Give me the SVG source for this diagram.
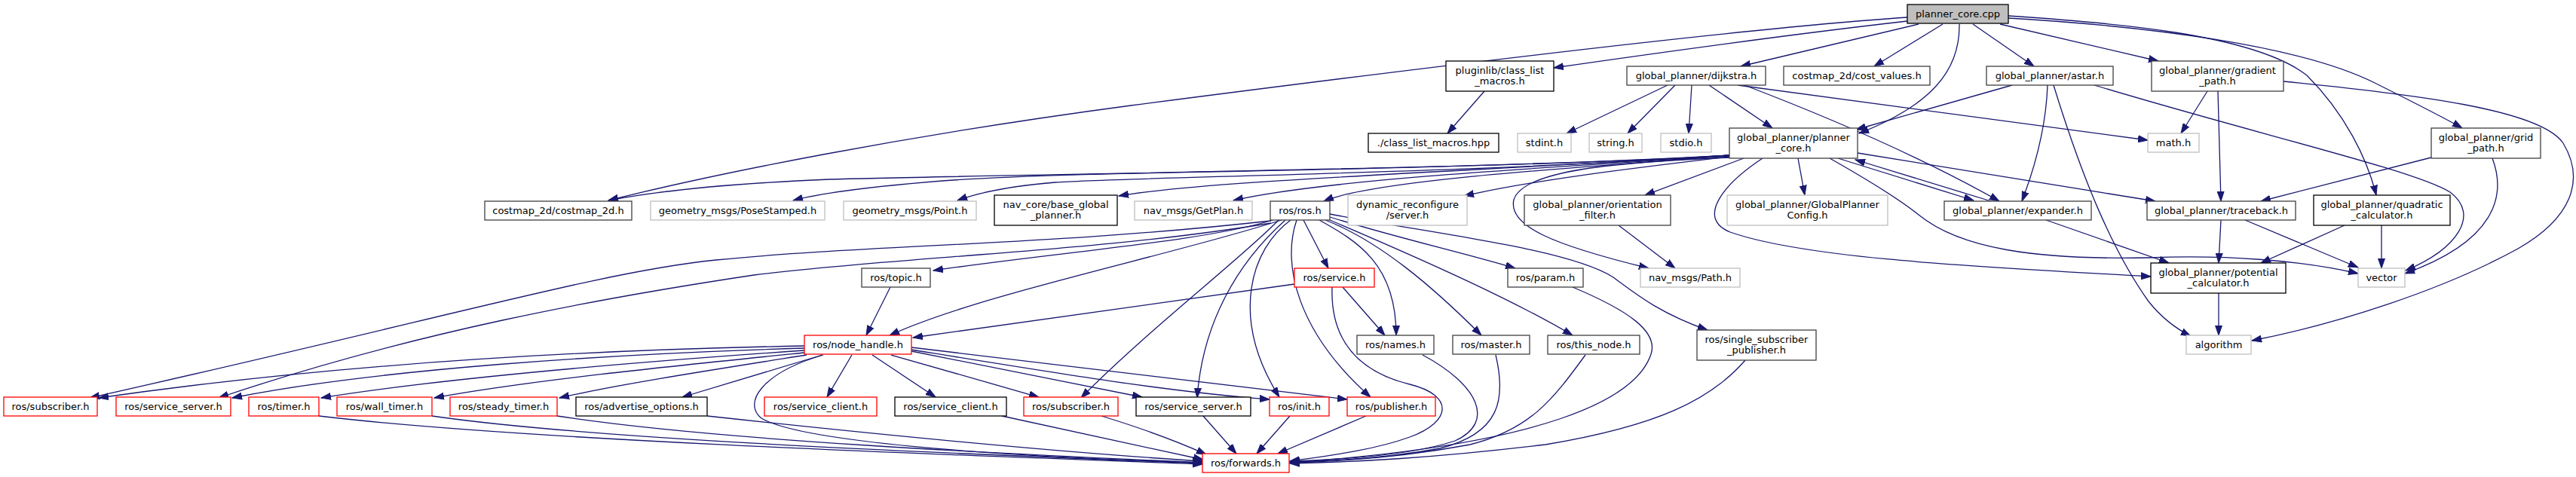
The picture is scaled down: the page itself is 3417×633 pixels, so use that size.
<svg xmlns="http://www.w3.org/2000/svg" width="3417" height="633" viewBox="0 0 3417 633">
<defs>
<marker id="a" markerWidth="14" markerHeight="10" refX="13" refY="5" orient="auto" markerUnits="userSpaceOnUse">
<path d="M0,0.5 L13,5 L0,9.5 z" fill="#191970" stroke="#191970" stroke-width="1"/>
</marker>
</defs>
<style>
rect{fill:#fff;stroke-width:1.3}
.k rect{stroke:#000}
.d rect{stroke:#404040}
.g rect{stroke:#bfbfbf}
.r rect{stroke:#ff0000}
.root rect{fill:#bfbfbf;stroke:#000}
text{font-family:"DejaVu Sans","Liberation Sans",sans-serif;font-size:13px;text-anchor:middle;fill:#000}
#edges path{fill:none;stroke:#191970;stroke-width:1.3;marker-end:url(#a)}
</style>
<rect x="0" y="0" width="3417" height="633" style="fill:#fff;stroke:none"/>
<g id="edges">
<path d="M2530,23 C2350,35 2000,75 1500,140 C1200,180 950,230 807,266"/>
<path d="M2530,28 C2380,45 2200,70 2061,90"/>
<path d="M2545,32 L2309,88"/>
<path d="M2577,32 L2486,88"/>
<path d="M2599,32 C2600,95 2560,140 2466,177"/>
<path d="M2617,32 L2698,88"/>
<path d="M2653,32 L2863,81"/>
<path d="M2664,21 C2800,30 2990,45 3060,100 C3110,150 3140,210 3152,259"/>
<path d="M2664,24 C2850,35 3050,60 3150,110 C3200,135 3240,155 3266,170"/>
<path d="M1969,121 L1920,177"/>
<path d="M2212,113 L2078,177"/>
<path d="M2222,113 L2159,177"/>
<path d="M2244,113 L2240,177"/>
<path d="M2267,113 L2351,170"/>
<path d="M2305,113 L2849,186"/>
<path d="M2314,113 C2450,165 2560,215 2652,267"/>
<path d="M2669,113 L2462,172"/>
<path d="M2716,113 C2714,170 2700,220 2682,267"/>
<path d="M2724,113 C2760,230 2800,330 2850,400 C2870,425 2890,438 2906,446"/>
<path d="M2778,113 C3000,180 3200,225 3250,255 C3290,285 3260,330 3191,359"/>
<path d="M2928,121 L2893,177"/>
<path d="M2942,121 L2946,267"/>
<path d="M3029,108 C3200,125 3370,145 3400,190 C3430,240 3410,290 3340,330 C3240,385 3100,430 2987,452"/>
<path d="M2294,206 C2000,225 1300,232 1100,238 C980,243 880,252 807,266"/>
<path d="M2294,206 C1900,228 1450,225 1250,240 C1150,248 1090,256 1052,266"/>
<path d="M2294,206 C1950,230 1500,235 1400,242 C1340,247 1300,255 1270,266"/>
<path d="M2294,206 C1900,230 1600,240 1484,260"/>
<path d="M2294,207 C2000,225 1750,240 1636,266"/>
<path d="M2294,207 C2050,225 1820,240 1756,267"/>
<path d="M2294,208 C2150,225 2030,240 1942,260"/>
<path d="M2313,210 L2182,259"/>
<path d="M2385,210 L2394,259"/>
<path d="M2294,209 C2150,215 2020,225 2008,265 C2000,300 2060,325 2187,356"/>
<path d="M2438,210 L2618,266"/>
<path d="M2641,267 L2461,212"/>
<path d="M2464,203 L2859,267"/>
<path d="M2338,210 C2285,245 2250,290 2295,308 C2400,345 2650,355 2853,367"/>
<path d="M2427,210 C2480,240 2520,265 2545,285 C2600,330 2700,345 2850,342 C2950,338 3050,345 3128,363"/>
<path d="M1688,292 C1600,320 1400,335 1238,359"/>
<path d="M1729,292 L1762,356"/>
<path d="M1700,292 C1550,340 1300,390 1180,445"/>
<path d="M1686,293 C1400,325 1150,325 950,345 C800,360 600,420 119,528"/>
<path d="M1686,296 C1450,335 1200,340 1000,365 C800,395 550,440 290,528"/>
<path d="M1696,292 C1650,340 1520,440 1434,528"/>
<path d="M1705,292 C1640,350 1595,430 1588,528"/>
<path d="M1712,292 C1660,330 1630,420 1697,527"/>
<path d="M1720,292 C1700,350 1720,440 1818,527"/>
<path d="M1750,292 C1800,320 1852,350 1852,445"/>
<path d="M1758,292 C1830,320 1900,380 1965,445"/>
<path d="M1764,292 C1900,350 2010,400 2086,445"/>
<path d="M1764,288 C1850,315 1940,335 2010,356"/>
<path d="M1764,284 C1900,310 2080,330 2140,368 C2170,390 2200,415 2265,438"/>
<path d="M1181,381 L1149,445"/>
<path d="M1717,377 L1211,448"/>
<path d="M1781,381 L1837,445"/>
<path d="M1767,381 C1765,440 1790,490 1870,510 C1930,525 1925,560 1870,580 C1820,598 1760,605 1711,612"/>
<path d="M1067,459 C850,463 500,475 131,528"/>
<path d="M1067,462 C800,470 500,490 308,528"/>
<path d="M1067,465 C850,480 600,500 426,528"/>
<path d="M1067,468 C900,485 700,505 576,528"/>
<path d="M1070,471 C950,490 820,510 742,528"/>
<path d="M1091,471 L905,527"/>
<path d="M1130,471 L1097,527"/>
<path d="M1157,471 L1241,527"/>
<path d="M1182,471 L1378,527"/>
<path d="M1209,466 L1515,527"/>
<path d="M1209,464 C1400,495 1550,520 1684,530"/>
<path d="M1209,461 C1450,490 1650,515 1787,530"/>
<path d="M1092,471 C1010,495 985,535 1010,555 C1060,585 1300,605 1595,614"/>
<path d="M423,552 C700,585 1300,605 1595,616"/>
<path d="M573,552 C800,585 1300,603 1595,615"/>
<path d="M739,552 C950,585 1350,603 1595,614"/>
<path d="M938,552 C1150,575 1400,600 1595,612"/>
<path d="M1329,552 L1596,610"/>
<path d="M1461,552 C1520,570 1560,585 1600,603"/>
<path d="M1596,552 L1640,602"/>
<path d="M1711,552 L1667,602"/>
<path d="M1812,552 L1695,602"/>
<path d="M1887,471 C1960,510 1985,560 1930,585 C1870,605 1780,610 1711,612"/>
<path d="M1984,471 C1998,530 1990,575 1910,595 C1840,608 1770,612 1711,613"/>
<path d="M2103,471 C2060,530 2030,570 1950,590 C1870,605 1790,612 1711,614"/>
<path d="M2086,381 C2160,412 2200,440 2190,470 C2170,530 2050,590 1711,614"/>
<path d="M2315,478 C2270,530 2200,565 2050,590 C1900,608 1800,613 1711,615"/>
<path d="M2714,292 L2877,349"/>
<path d="M2946,292 L2943,349"/>
<path d="M2978,292 L3128,355"/>
<path d="M3110,299 L2999,349"/>
<path d="M3159,299 L3159,356"/>
<path d="M3225,209 L2999,267"/>
<path d="M3306,210 C3325,260 3310,320 3190,363"/>
<path d="M2147,299 L2222,356"/>
<path d="M2943,389 L2943,445"/>
</g>
<g id="n0" class="root"><rect x="2530" y="6" width="134" height="25"/><text x="2597" y="22.5">planner_core.cpp</text></g>
<g id="n1" class="k"><rect x="1918" y="81" width="143" height="40"/><text x="1989.5" y="97.5">pluginlib/class_list</text><text x="1989.5" y="112">_macros.h</text></g>
<g id="n2" class="d"><rect x="2158" y="88" width="184" height="25"/><text x="2250" y="104.5">global_planner/dijkstra.h</text></g>
<g id="n3" class="d"><rect x="2366" y="88" width="194" height="25"/><text x="2463" y="104.5">costmap_2d/cost_values.h</text></g>
<g id="n4" class="d"><rect x="2635" y="88" width="168" height="25"/><text x="2719" y="104.5">global_planner/astar.h</text></g>
<g id="n5" class="d"><rect x="2854" y="81" width="175" height="40"/><text x="2941.5" y="97.5">global_planner/gradient</text><text x="2941.5" y="112">_path.h</text></g>
<g id="n6" class="k"><rect x="1815" y="177" width="173" height="25"/><text x="1901.5" y="193.5">./class_list_macros.hpp</text></g>
<g id="n7" class="g"><rect x="2013" y="177" width="71" height="25"/><text x="2048.5" y="193.5">stdint.h</text></g>
<g id="n8" class="g"><rect x="2108" y="177" width="70" height="25"/><text x="2143" y="193.5">string.h</text></g>
<g id="n9" class="g"><rect x="2203" y="177" width="67" height="25"/><text x="2236.5" y="193.5">stdio.h</text></g>
<g id="n10" class="d"><rect x="2294" y="170" width="170" height="40"/><text x="2379" y="186.5">global_planner/planner</text><text x="2379" y="201">_core.h</text></g>
<g id="n11" class="g"><rect x="2849" y="177" width="68" height="25"/><text x="2883" y="193.5">math.h</text></g>
<g id="n12" class="d"><rect x="3225" y="170" width="145" height="40"/><text x="3297.5" y="186.5">global_planner/grid</text><text x="3297.5" y="201">_path.h</text></g>
<g id="n13" class="d"><rect x="643" y="267" width="195" height="25"/><text x="740.5" y="283.5">costmap_2d/costmap_2d.h</text></g>
<g id="n14" class="g"><rect x="863" y="267" width="231" height="25"/><text x="978.5" y="283.5">geometry_msgs/PoseStamped.h</text></g>
<g id="n15" class="g"><rect x="1119" y="267" width="176" height="25"/><text x="1207" y="283.5">geometry_msgs/Point.h</text></g>
<g id="n16" class="k"><rect x="1319" y="259" width="163" height="40"/><text x="1400.5" y="275.5">nav_core/base_global</text><text x="1400.5" y="290">_planner.h</text></g>
<g id="n17" class="g"><rect x="1505" y="267" width="156" height="25"/><text x="1583" y="283.5">nav_msgs/GetPlan.h</text></g>
<g id="n18" class="d"><rect x="1685" y="267" width="79" height="25"/><text x="1724.5" y="283.5">ros/ros.h</text></g>
<g id="n19" class="g"><rect x="1788" y="259" width="158" height="40"/><text x="1867" y="275.5">dynamic_reconfigure</text><text x="1867" y="290">/server.h</text></g>
<g id="n20" class="d"><rect x="2022" y="259" width="194" height="40"/><text x="2119" y="275.5">global_planner/orientation</text><text x="2119" y="290">_filter.h</text></g>
<g id="n21" class="g"><rect x="2291" y="259" width="213" height="40"/><text x="2397.5" y="275.5">global_planner/GlobalPlanner</text><text x="2397.5" y="290">Config.h</text></g>
<g id="n22" class="d"><rect x="2579" y="267" width="195" height="25"/><text x="2676.5" y="283.5">global_planner/expander.h</text></g>
<g id="n23" class="d"><rect x="2848" y="267" width="197" height="25"/><text x="2946.5" y="283.5">global_planner/traceback.h</text></g>
<g id="n24" class="k"><rect x="3069" y="259" width="181" height="40"/><text x="3159.5" y="275.5">global_planner/quadratic</text><text x="3159.5" y="290">_calculator.h</text></g>
<g id="n25" class="d"><rect x="1143" y="356" width="91" height="25"/><text x="1188.5" y="372.5">ros/topic.h</text></g>
<g id="n26" class="r"><rect x="1717" y="356" width="106" height="25"/><text x="1770" y="372.5">ros/service.h</text></g>
<g id="n27" class="d"><rect x="2000" y="356" width="100" height="25"/><text x="2050" y="372.5">ros/param.h</text></g>
<g id="n28" class="g"><rect x="2176" y="356" width="132" height="25"/><text x="2242" y="372.5">nav_msgs/Path.h</text></g>
<g id="n29" class="k"><rect x="2853" y="349" width="179" height="40"/><text x="2942.5" y="365.5">global_planner/potential</text><text x="2942.5" y="380">_calculator.h</text></g>
<g id="n30" class="g"><rect x="3128" y="356" width="62" height="25"/><text x="3159" y="372.5">vector</text></g>
<g id="n31" class="r"><rect x="1067" y="445" width="142" height="25"/><text x="1138" y="461.5">ros/node_handle.h</text></g>
<g id="n32" class="d"><rect x="1800" y="445" width="102" height="25"/><text x="1851" y="461.5">ros/names.h</text></g>
<g id="n33" class="d"><rect x="1927" y="445" width="102" height="25"/><text x="1978" y="461.5">ros/master.h</text></g>
<g id="n34" class="d"><rect x="2053" y="445" width="122" height="25"/><text x="2114" y="461.5">ros/this_node.h</text></g>
<g id="n35" class="d"><rect x="2251" y="438" width="158" height="40"/><text x="2330" y="454.5">ros/single_subscriber</text><text x="2330" y="469">_publisher.h</text></g>
<g id="n36" class="g"><rect x="2900" y="445" width="86" height="25"/><text x="2943" y="461.5">algorithm</text></g>
<g id="n37" class="r"><rect x="5" y="527" width="124" height="25"/><text x="67" y="543.5">ros/subscriber.h</text></g>
<g id="n38" class="r"><rect x="154" y="527" width="152" height="25"/><text x="230" y="543.5">ros/service_server.h</text></g>
<g id="n39" class="r"><rect x="330" y="527" width="93" height="25"/><text x="376.5" y="543.5">ros/timer.h</text></g>
<g id="n40" class="r"><rect x="447" y="527" width="126" height="25"/><text x="510" y="543.5">ros/wall_timer.h</text></g>
<g id="n41" class="r"><rect x="597" y="527" width="142" height="25"/><text x="668" y="543.5">ros/steady_timer.h</text></g>
<g id="n42" class="k"><rect x="764" y="527" width="174" height="25"/><text x="851" y="543.5">ros/advertise_options.h</text></g>
<g id="n43" class="r"><rect x="1014" y="527" width="149" height="25"/><text x="1088.5" y="543.5">ros/service_client.h</text></g>
<g id="n44" class="k"><rect x="1187" y="527" width="148" height="25"/><text x="1261" y="543.5">ros/service_client.h</text></g>
<g id="n45" class="r"><rect x="1358" y="527" width="125" height="25"/><text x="1420.5" y="543.5">ros/subscriber.h</text></g>
<g id="n46" class="k"><rect x="1507" y="527" width="152" height="25"/><text x="1583" y="543.5">ros/service_server.h</text></g>
<g id="n47" class="r"><rect x="1684" y="527" width="79" height="25"/><text x="1723.5" y="543.5">ros/init.h</text></g>
<g id="n48" class="r"><rect x="1787" y="527" width="117" height="25"/><text x="1845.5" y="543.5">ros/publisher.h</text></g>
<g id="n49" class="r"><rect x="1595" y="602" width="115" height="25"/><text x="1652.5" y="618.5">ros/forwards.h</text></g>
</svg>
